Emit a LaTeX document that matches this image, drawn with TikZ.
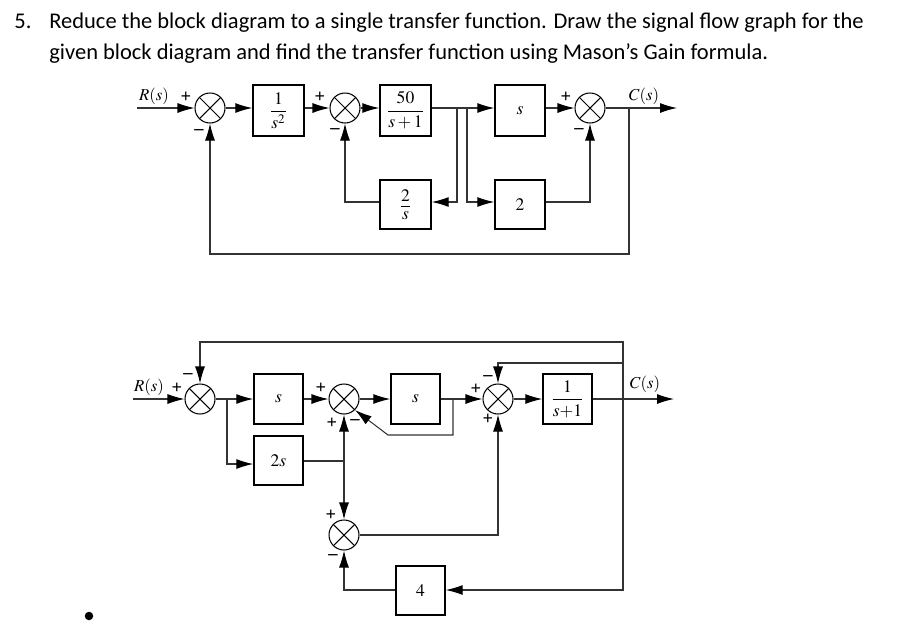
\documentclass[tikz,border=0pt]{standalone}
\usepackage{amsmath}
\usepackage{mathptmx}
\usepackage[no-math]{fontspec}
\setmainfont{Carlito}
\newfontfamily\figfont{Liberation Serif}
\usetikzlibrary{positioning,arrows.meta}
\tikzset{
    block/.style={draw, line width=0.85pt, inner sep=0pt, font=\figfont\fontsize{10}{11}\selectfont},
    sum/.style={circle, draw, line width=0.6pt, inner sep=0pt, minimum size=0.6cm,
        path picture={
            \draw[line width=0.6pt] (path picture bounding box.north west) -- (path picture bounding box.south east)
                (path picture bounding box.north east) -- (path picture bounding box.south west);}},
    sign/.style={inner sep=0pt, font=\figfont\bfseries\fontsize{10.5}{11}\selectfont},
    sig/.style={inner sep=0pt, font=\figfont\fontsize{9.5}{10}\selectfont},
    line/.style={draw=black!80, line width=0.6pt},
    arr/.style={line, -{Latex[length=3.4mm,width=2mm,black]}},
    title/.style={inner sep=0pt, anchor=base west, font=\fontsize{12.8}{14}\selectfont}
}
\begin{document}
\begin{tikzpicture}[x=0.02cm, y=-0.02cm]
    \useasboundingbox (0,0) rectangle (913,623);

    % Question text
    \node[title] (num) at (14,28) {5.};
    \node[title] (line1) at (49,28) {Reduce the block diagram to a single transfer function. Draw the signal flow graph for the};
    \node[title] (line2) at (49,59) {given block diagram and find the transfer function using Mason’s Gain formula.};

    % Upper diagram
    \node[sum] (a1) at (210,108) {};
    \node[sum] (a2) at (345,108) {};
    \node[sum] (a3) at (590,108) {};
    \node[block, minimum width=1.02cm, minimum height=1.02cm] (g1) at (278.5,110.5) {$\dfrac{1}{s^2}$};
    \node[block, minimum width=1.02cm, minimum height=1.02cm] (g2) at (405.5,110.5) {$\dfrac{50}{s+1}$};
    \node[block, minimum width=1cm, minimum height=1.02cm] (g3) at (520,110.5) {$s$};
    \node[block, minimum width=1.02cm, minimum height=0.98cm] (h1) at (405.5,204.5) {$\dfrac{\raisebox{-1.8pt}[7pt][0pt]{$2$}}{\raisebox{1.8pt}[0pt][0pt]{$s$}}$};
    \node[block, minimum width=1cm, minimum height=0.98cm] (h2) at (520,204.5) {$2$};
    \node[sig] (ra) at (154,96) {$R(s)$};
    \node[sig] (ca) at (644,96) {$C(s)$};

    \coordinate (ain) at (137,108);
    \coordinate (aout) at (677,108);
    \coordinate (j1) at (457,108);
    \coordinate (j2) at (467,108);
    \coordinate (j3) at (629,108);
    \coordinate (k1) at (457,202);
    \coordinate (k2) at (467,202);
    \coordinate (k3) at (590,202);
    \coordinate (k4) at (345,202);
    \coordinate (fb1) at (629,254);
    \coordinate (fb2) at (210,254);

    \draw[arr] (ain) -- (a1);
    \draw[arr] (a1) -- (a1 -| g1.west);
    \draw[arr] (a1 -| g1.east) -- (a2);
    \draw[arr] (a2) -- (a2 -| g2.west);
    \draw[arr] (a2 -| g2.east) -- (a2 -| g3.west);
    \draw[arr] (a3 -| g3.east) -- (a3);
    \draw[arr] (a3) -- (aout);
    \draw[arr] (j1) -- (k1) -- (k1 -| h1.east);
    \draw[arr] (j2) -- (k2) -- (k2 -| h2.west);
    \draw[arr] (k3 -| h2.east) -- (k3) -- (a3);
    \draw[arr] (k4 -| h1.west) -- (k4) -- (a2);
    \draw[arr] (j3) -- (fb1) -- (fb2) -- (a1);

    % Lower diagram
    \node[sum] (b1) at (200,399) {};
    \node[sum] (b2) at (344,399) {};
    \node[sum] (b3) at (498,399) {};
    \node[sum] (b4) at (344,535) {};
    \node[block, minimum width=0.98cm, minimum height=1cm] (p1) at (278.5,399) {$s$};
    \node[block, minimum width=0.98cm, minimum height=1cm] (p2) at (415.5,399) {$s$};
    \node[block, minimum width=0.98cm, minimum height=1cm] (p3) at (567.5,399) {$\dfrac{1}{s{+}1}$};
    \node[block, minimum width=0.98cm, minimum height=0.98cm] (q1) at (278.5,460.5) {$2s$};
    \node[block, minimum width=0.98cm, minimum height=0.98cm] (q2) at (420.5,590.5) {$4$};
    \node[sig] (rb) at (149,387) {$R(s)$};
    \node[sig] (cb) at (645,384) {$C(s)$};

    \coordinate (bin) at (133,399);
    \coordinate (bout) at (674,399);
    \coordinate (t1) at (227,399);
    \coordinate (t2) at (227,464);
    \coordinate (t3) at (344,461);
    \coordinate (t4) at (453,399);
    \coordinate (t5) at (453,435);
    \coordinate (t6) at (388,435);
    \coordinate (t7) at (498,535);
    \coordinate (t8) at (623,399);
    \coordinate (t9) at (623,342);
    \coordinate (t10) at (200,342);
    \coordinate (t11) at (623,363);
    \coordinate (t12) at (498,363);
    \coordinate (t13) at (623,590);
    \coordinate (t14) at (344,590);

    \draw[arr] (bin) -- (b1);
    \draw[arr] (b1) -- (b1 -| p1.west);
    \draw[arr] (b2 -| p1.east) -- (b2);
    \draw[arr] (b2) -- (b2 -| p2.west);
    \draw[arr] (b3 -| p2.east) -- (b3);
    \draw[arr] (b3) -- (b3 -| p3.west);
    \draw[arr] (b3 -| p3.east) -- (bout);
    \draw[arr] (t1) -- (t2) -- (t2 -| q1.west);
    \draw[line] (t3 -| q1.east) -- (t3);
    \draw[arr] (t3) -- (b2);
    \draw[arr] (t3) -- (b4);
    \draw[arr] (t4) -- (t5) -- (t6) -- (b2.-45);
    \draw[arr] (b4) -- (t7) -- (b3);
    \draw[arr] (t8) -- (t9) -- (t10) -- (b1);
    \draw[arr] (t11) -- (t12) -- (b3);
    \draw[arr] (t8) -- (t13) -- (t13 -| q2.east);
    \draw[arr] (t14 -| q2.west) -- (t14) -- (b4);

    % Signs at the summing points
    \foreach \n/\px/\py/\s in {1/186/97/+,2/199/132/–,3/320/97/+,4/335/131/–,5/566/97/+,6/579/131/–,
            7/177/388/+,8/188/376/–,9/321/388/+,10/332/423/+,11/355/422/–,
            12/476/389/+,13/488/378/–,14/488/419/+,15/331/515/+,16/333/557/–}
        \node[sign] (sign\n) at (\px,\py) {\s};

    \node[circle, fill=black, inner sep=0pt, minimum size=0.17cm] (dot) at (89,616) {};
\end{tikzpicture}
\end{document}
